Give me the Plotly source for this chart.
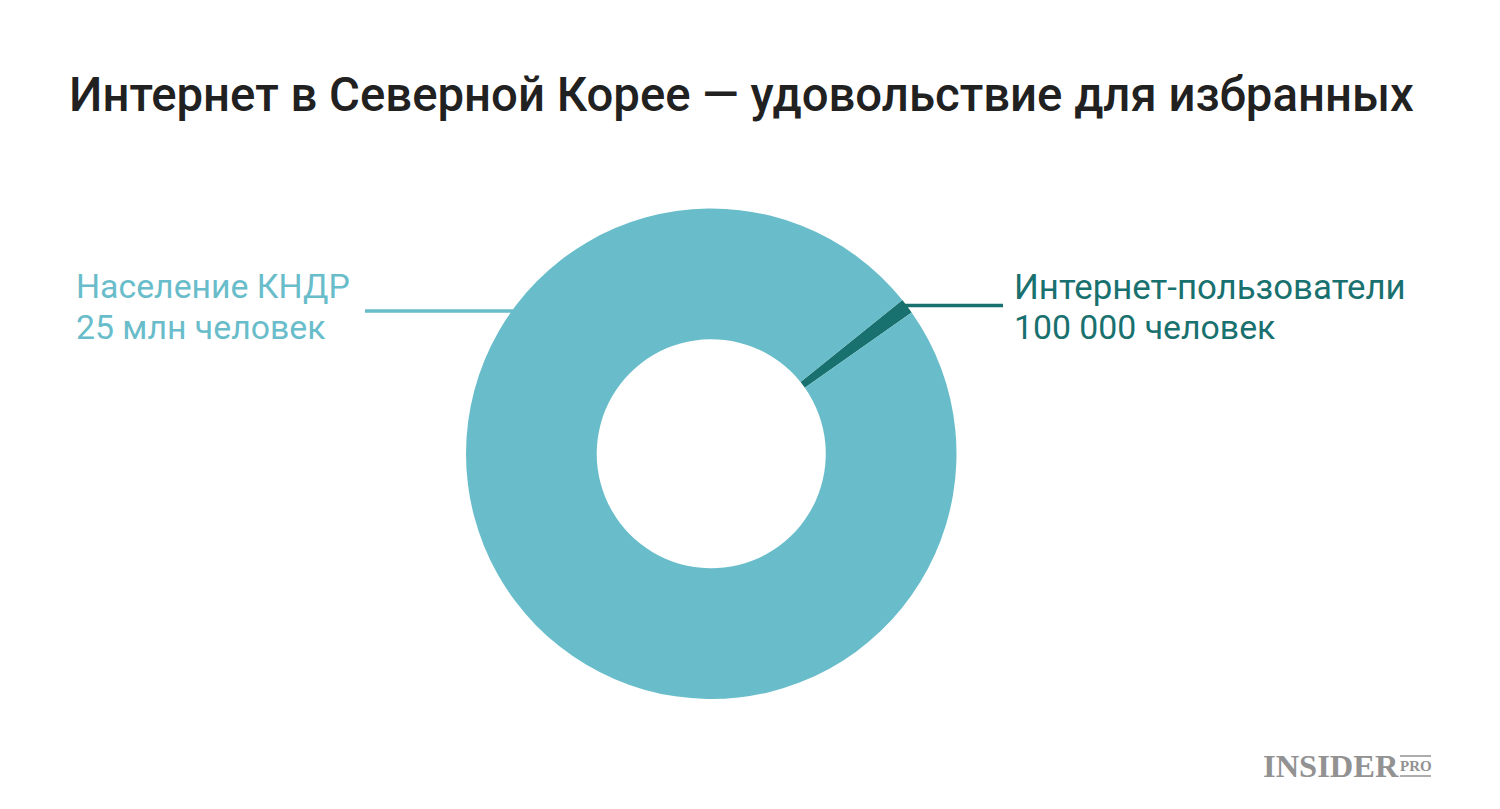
import plotly.graph_objects as go

# the page keeps an 8px body margin, so the figure is that much smaller
PAGE_MARGIN = 8
WIDTH = 1500 - PAGE_MARGIN
HEIGHT = 809 - PAGE_MARGIN

# share of the ring as it is drawn, percent
slice_names = ["Интернет-пользователи", "Население КНДР"]
slice_shares = [1.0, 99.0]
slice_colors = ["#19716f", "#69bdca"]

title_text = "Интернет в Северной Корее — удовольствие для избранных"
left_label = ["Население КНДР", "25 млн человек"]
right_label = ["Интернет-пользователи", "100 000 человек"]


def px(x):
    return (x - PAGE_MARGIN) / WIDTH


def py(y):
    return 1 - (y - PAGE_MARGIN) / HEIGHT


fig = go.Figure(go.Pie(
    labels=slice_names,
    values=slice_shares,
    sort=False,
    direction="clockwise",
    rotation=51.2,
    hole=0.467,
    marker=dict(colors=slice_colors, line=dict(width=0)),
    textinfo="none",
    hoverinfo="label",
    showlegend=False,
    domain=dict(x=[px(466), px(956.5)], y=[py(699), py(208.5)]),
))


def add_text(text, x, y, size, color, family="Roboto", weight=400, anchor="left"):
    fig.add_annotation(
        text=text, x=px(x), y=py(y), xref="paper", yref="paper",
        xanchor=anchor, yanchor="middle", showarrow=False,
        font=dict(family=family, size=size, color=color, weight=weight),
    )


add_text(title_text, 67, 95, 47.3, "#212121", weight=500)

add_text(left_label[0], 73.5, 287, 33.8, slice_colors[1])
add_text(left_label[1], 73.5, 327, 33.8, slice_colors[1])
add_text(right_label[0], 1011.5, 287, 34.8, slice_colors[0])
add_text(right_label[1], 1011.5, 327, 33.8, slice_colors[0])

# leader lines
fig.add_shape(type="line", xref="paper", yref="paper",
              x0=px(365), x1=px(513), y0=py(311), y1=py(311),
              line=dict(color=slice_colors[1], width=3.5))
fig.add_shape(type="line", xref="paper", yref="paper",
              x0=px(904), x1=px(1003), y0=py(305.5), y1=py(305.5),
              line=dict(color=slice_colors[0], width=3.5))

# logo
logo_gray = "#929292"
add_text("INSIDER", 1261, 766, 32.5, logo_gray, family="Liberation Serif", weight=700)
add_text("PRO", 1433.5, 766, 15, logo_gray, family="Liberation Serif", weight=700, anchor="right")
fig.add_shape(type="line", xref="paper", yref="paper",
              x0=px(1400), x1=px(1431), y0=py(756), y1=py(756),
              line=dict(color=logo_gray, width=1.5))
fig.add_shape(type="line", xref="paper", yref="paper",
              x0=px(1400), x1=px(1431), y0=py(776), y1=py(776),
              line=dict(color=logo_gray, width=1.5))

fig.update_layout(
    width=WIDTH,
    height=HEIGHT,
    margin=dict(l=0, r=0, t=0, b=0),
    paper_bgcolor="white",
    plot_bgcolor="white",
)

fig.write_html("out.html")
